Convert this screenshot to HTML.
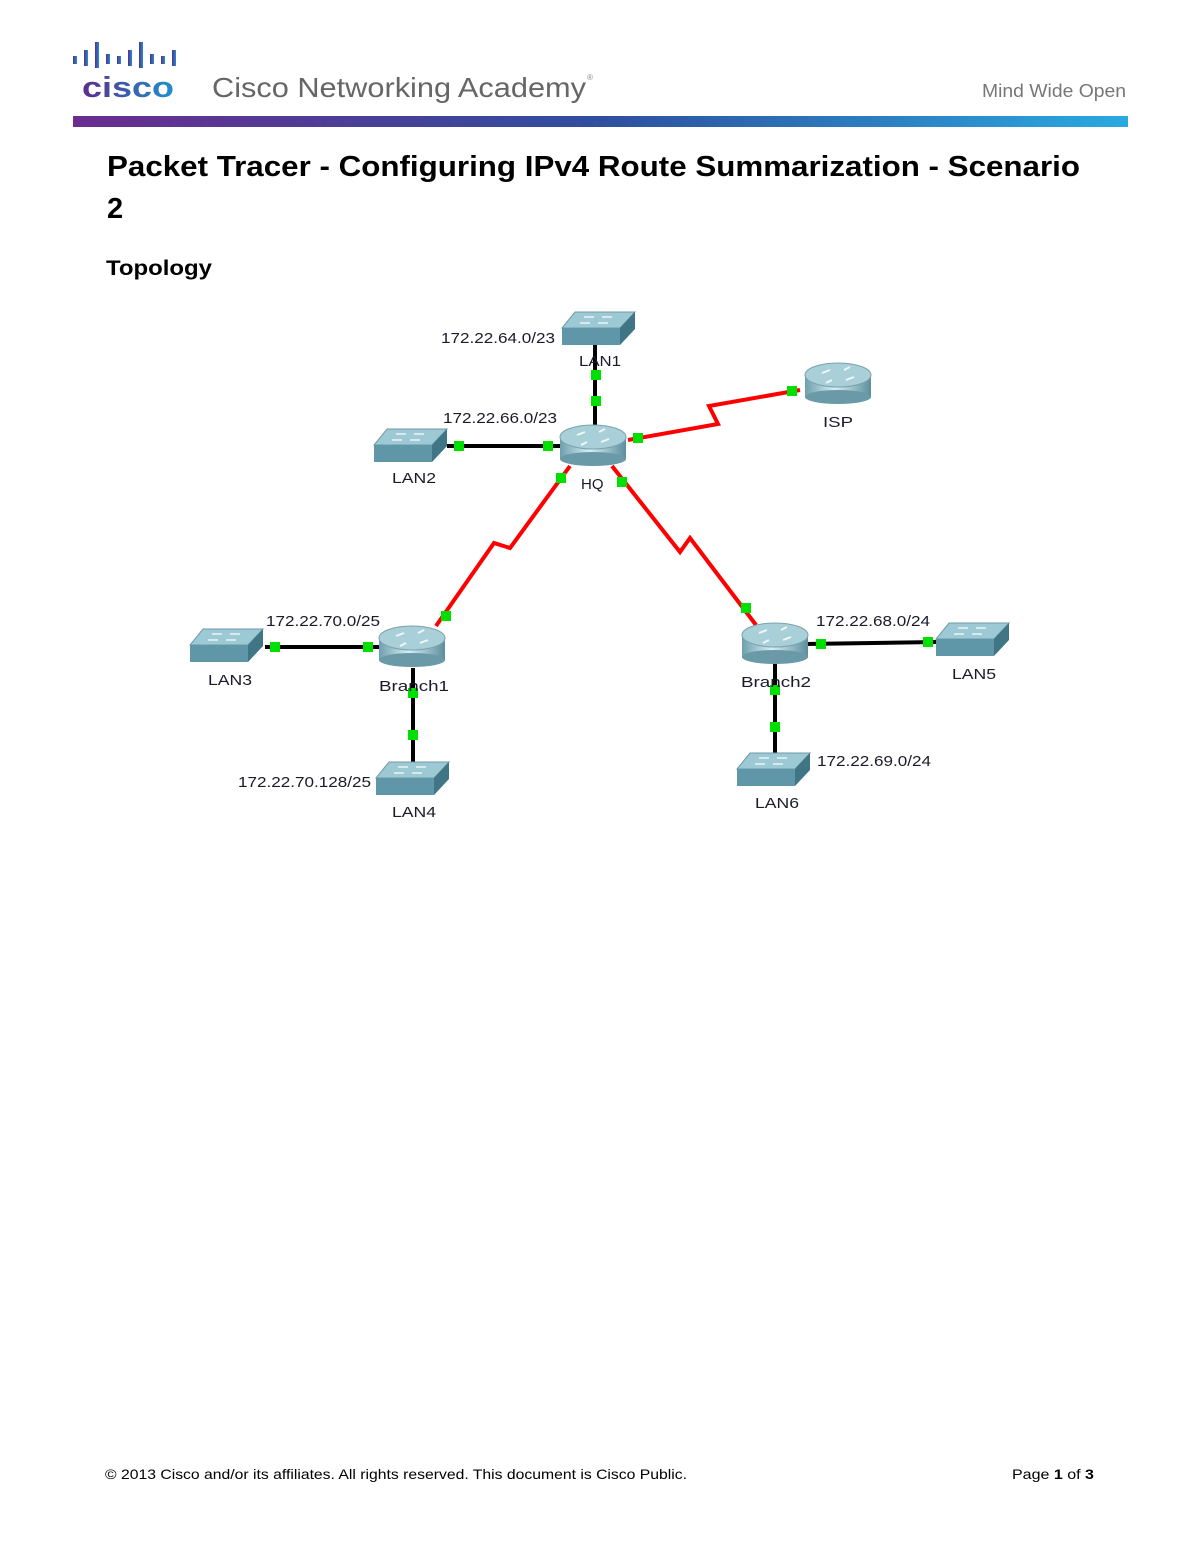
<!DOCTYPE html>
<html><head><meta charset="utf-8"><style>
body{margin:0;width:1200px;height:1553px;background:#fff;position:relative;font-family:"Liberation Sans",sans-serif;overflow:hidden}
.a{position:absolute;white-space:nowrap}
</style></head><body>
<svg class="a" style="left:0;top:0" width="1200" height="1553">
<defs>
<linearGradient id="bar" x1="0" x2="1"><stop offset="0" stop-color="#6b2d8f"/><stop offset="0.5" stop-color="#2f4f9e"/><stop offset="1" stop-color="#2aa9e0"/></linearGradient>
<linearGradient id="cis" x1="0" x2="1"><stop offset="0" stop-color="#5a2d8a"/><stop offset="1" stop-color="#1f8fd0"/></linearGradient>
<linearGradient id="rb" x1="0" x2="1"><stop offset="0" stop-color="#6e9fae"/><stop offset="0.45" stop-color="#d6eef3"/><stop offset="1" stop-color="#5d8e9d"/></linearGradient>
<g id="sw"><polygon points="13,0 73,0 58,16 0,16" fill="#9cc9d4" stroke="#6f9aa6"/><rect x="0" y="16" width="58" height="17" fill="#5f97a8"/><polygon points="58,16 73,0 73,17 58,33" fill="#3f7585"/>
<path d="M22,5 h10 M40,5 h10 M18,11 h10 M36,11 h10" stroke="#e8f4f6" stroke-width="1.5"/></g>
<g id="rt"><rect x="-33" y="0" width="66" height="22" fill="url(#rb)"/><ellipse cx="0" cy="22" rx="33" ry="7" fill="#6a9aa8"/><ellipse cx="0" cy="0" rx="33" ry="12" fill="#a9cfd8" stroke="#7aa3ad"/>
<path d="M-16,-2 l8,-3 M16,2 l-8,3 M-6,5 l-6,3 M6,-5 l6,-3" stroke="#eef7f9" stroke-width="2"/></g>
</defs>
<g fill="url(#cis)"><rect x="73" y="56" width="4" height="8"/><rect x="84" y="50" width="4" height="16"/><rect x="95" y="42" width="4" height="26"/><rect x="106" y="54" width="4" height="10"/><rect x="117" y="56" width="4" height="8"/><rect x="128" y="50" width="4" height="16"/><rect x="139" y="42" width="4" height="26"/><rect x="150" y="54" width="4" height="10"/><rect x="161" y="56" width="4" height="8"/><rect x="172" y="50" width="4" height="16"/></g>
<text x="82" y="97" font-family="Liberation Sans" font-weight="bold" font-size="29" fill="url(#cis)" textLength="92" lengthAdjust="spacingAndGlyphs">cisco</text>
<text x="212" y="97" font-family="Liberation Sans" font-size="28" fill="#666" textLength="374" lengthAdjust="spacingAndGlyphs">Cisco Networking Academy</text>
<text x="587" y="80" font-size="8" fill="#888">®</text>
<text x="982" y="97" font-family="Liberation Sans" font-size="18" fill="#777" textLength="144" lengthAdjust="spacingAndGlyphs">Mind Wide Open</text>
<rect x="73" y="116" width="1055" height="11" fill="url(#bar)"/>
<text x="107" y="176" font-weight="bold" font-size="29" fill="#000" textLength="973" lengthAdjust="spacingAndGlyphs">Packet Tracer - Configuring IPv4 Route Summarization - Scenario</text>
<text x="107" y="218" font-weight="bold" font-size="29" fill="#000">2</text>
<text x="106" y="275" font-weight="bold" font-size="21" fill="#000" textLength="106" lengthAdjust="spacingAndGlyphs">Topology</text>

<g stroke="#000" stroke-width="4" fill="none">
<line x1="595" y1="345" x2="595" y2="428"/>
<line x1="447" y1="446" x2="562" y2="446"/>
<line x1="265" y1="647" x2="382" y2="647"/>
<line x1="413" y1="668" x2="413" y2="764"/>
<line x1="805" y1="644" x2="937" y2="642"/>
<line x1="775" y1="664" x2="775" y2="754"/>
</g>
<g stroke="#f00" stroke-width="4" fill="none">
<polyline points="628,440 718,424 709,406 800,390"/>
<polyline points="570,466 510,548 494,543 436,626"/>
<polyline points="612,466 680,552 690,538 756,625"/>
</g>
<use href="#sw" x="562" y="312"/>
<use href="#sw" x="374" y="429"/>
<use href="#sw" x="190" y="629"/>
<use href="#sw" x="376" y="762"/>
<use href="#sw" x="936" y="623"/>
<use href="#sw" x="737" y="753"/>
<use href="#rt" x="593" y="437"/>
<use href="#rt" x="838" y="375"/>
<use href="#rt" x="412" y="638"/>
<use href="#rt" x="775" y="635"/>
<g fill="#00e000"><rect x="591" y="370" width="10" height="10"/><rect x="591" y="396" width="10" height="10"/><rect x="454" y="441" width="10" height="10"/><rect x="543" y="441" width="10" height="10"/><rect x="633" y="433" width="10" height="10"/><rect x="787" y="386" width="10" height="10"/><rect x="556" y="473" width="10" height="10"/><rect x="441" y="611" width="10" height="10"/><rect x="617" y="477" width="10" height="10"/><rect x="741" y="603" width="10" height="10"/><rect x="270" y="642" width="10" height="10"/><rect x="363" y="642" width="10" height="10"/><rect x="408" y="688" width="10" height="10"/><rect x="408" y="730" width="10" height="10"/><rect x="816" y="639" width="10" height="10"/><rect x="923" y="637" width="10" height="10"/><rect x="770" y="685" width="10" height="10"/><rect x="770" y="722" width="10" height="10"/></g>
<g font-size="15" fill="#1a1a2a" font-family="Liberation Sans" lengthAdjust="spacingAndGlyphs">
<text x="441" y="343" textLength="114" lengthAdjust="spacingAndGlyphs">172.22.64.0/23</text>
<text x="443" y="423" textLength="114" lengthAdjust="spacingAndGlyphs">172.22.66.0/23</text>
<text x="266" y="626" textLength="114" lengthAdjust="spacingAndGlyphs">172.22.70.0/25</text>
<text x="238" y="787" textLength="133" lengthAdjust="spacingAndGlyphs">172.22.70.128/25</text>
<text x="816" y="626" textLength="114" lengthAdjust="spacingAndGlyphs">172.22.68.0/24</text>
<text x="817" y="766" textLength="114" lengthAdjust="spacingAndGlyphs">172.22.69.0/24</text>
<text x="579" y="366" textLength="42" lengthAdjust="spacingAndGlyphs">LAN1</text>
<text x="392" y="483" textLength="44" lengthAdjust="spacingAndGlyphs">LAN2</text>
<text x="581" y="489">HQ</text>
<text x="823" y="427" textLength="30" lengthAdjust="spacingAndGlyphs">ISP</text>
<text x="208" y="685" textLength="44" lengthAdjust="spacingAndGlyphs">LAN3</text>
<text x="379" y="691" textLength="70" lengthAdjust="spacingAndGlyphs">Branch1</text>
<text x="392" y="817" textLength="44" lengthAdjust="spacingAndGlyphs">LAN4</text>
<text x="741" y="687" textLength="70" lengthAdjust="spacingAndGlyphs">Branch2</text>
<text x="952" y="679" textLength="44" lengthAdjust="spacingAndGlyphs">LAN5</text>
<text x="755" y="808" textLength="44" lengthAdjust="spacingAndGlyphs">LAN6</text>
</g>
<text x="105" y="1479" font-size="14" fill="#000" textLength="582" lengthAdjust="spacingAndGlyphs">© 2013 Cisco and/or its affiliates. All rights reserved. This document is Cisco Public.</text>
<text x="1012" y="1479" font-size="14" fill="#000" textLength="82" lengthAdjust="spacingAndGlyphs">Page <tspan font-weight="bold">1</tspan> of <tspan font-weight="bold">3</tspan></text>
</svg>
</body></html>
